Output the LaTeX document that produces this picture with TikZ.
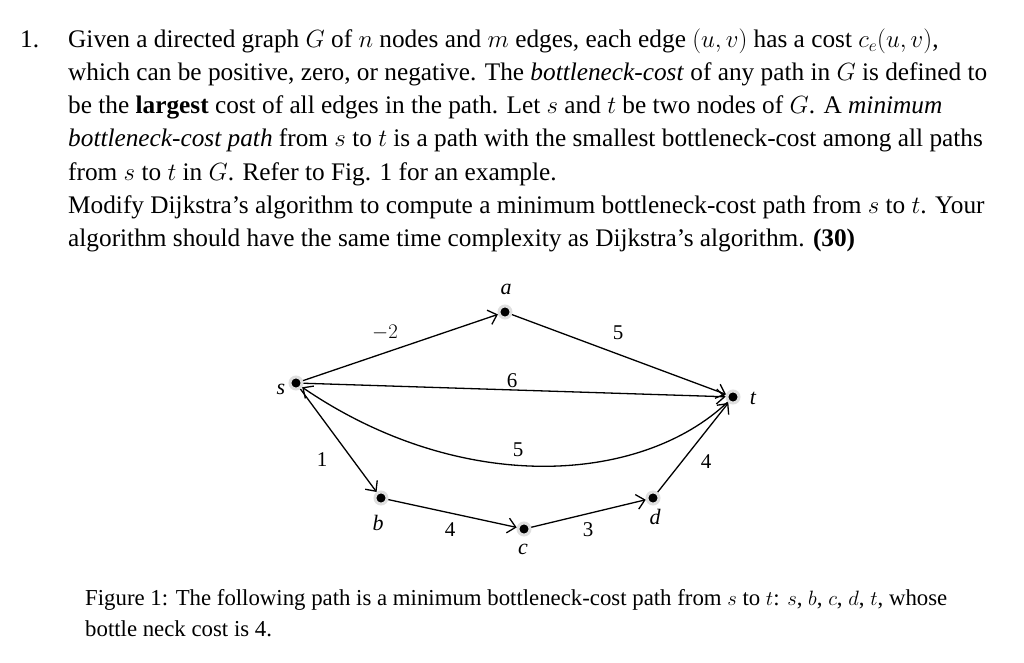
\documentclass[tikz,border=0pt]{standalone}
\usepackage{fontspec}
\setmainfont{Liberation Serif}
\usetikzlibrary{arrows.meta}
\begin{document}
\begin{tikzpicture}[x=1pt,y=-1pt,
  txt/.style={anchor=base west,inner sep=0,font=\fontsize{25.3}{28}\selectfont},
  captxt/.style={anchor=base west,inner sep=0,font=\fontsize{22.8}{26}\selectfont},
  vert/.style={circle,fill=black,inner sep=0,minimum size=12pt,draw=gray!25,line width=3pt},
  vlab/.style={font=\fontsize{22}{24}\selectfont\itshape},
  elab/.style={font=\fontsize{21}{24}\selectfont},
  edge/.style={line width=1.3pt,-{Straight Barb[length=8pt,width=15pt]}}]
\useasboundingbox (0,0) rectangle (1024,663);
\node[txt] (n1) at (20,48) {1.};
\node[txt] (l1) at (68,48) {Given a directed graph $G$ of $n$ nodes and $m$ edges, each edge $(u,v)$ has a cost $c_e(u,v)$,};
\node[txt] (l2) at (68,81) {which can be positive, zero, or negative. The \textit{bottleneck-cost} of any path in $G$ is defined to};
\node[txt] (l3) at (68,114) {be the \textbf{largest} cost of all edges in the path. Let $s$ and $t$ be two nodes of $G$. A \textit{minimum}};
\node[txt] (l4) at (68,147) {\textit{bottleneck-cost path} from $s$ to $t$ is a path with the smallest bottleneck-cost among all paths};
\node[txt] (l5) at (68,180) {from $s$ to $t$ in $G$. Refer to Fig. 1 for an example.};
\node[txt] (l6) at (68,213) {Modify Dijkstra's algorithm to compute a minimum bottleneck-cost path from $s$ to $t$. Your};
\node[txt] (l7) at (68,246) {algorithm should have the same time complexity as Dijkstra's algorithm. \textbf{(30)}};
\node[vert] (s) at (296,383) {};
\node[vert] (a) at (505,312) {};
\node[vert] (t) at (733,397) {};
\node[vert] (b) at (381,498) {};
\node[vert] (c) at (524,529) {};
\node[vert] (d) at (653,498) {};
\node[vlab] (ls) at (281,389) {s};
\node[vlab] (la) at (506,289) {a};
\node[vlab] (lt) at (753,398) {t};
\node[vlab] (lb) at (378,523) {b};
\node[vlab] (lc) at (523,549) {c};
\node[vlab] (ld) at (655,517) {d};
\draw[edge] (s) -- (a);
\draw[edge] (a) -- (t);
\draw[edge] (s) -- (t);
\draw[edge] (s) -- (b);
\draw[edge] (b) -- (c);
\draw[edge] (c) -- (d);
\draw[edge] (d) -- (t);
\draw[edge] (t) .. controls (640,485) and (460,495) .. (s);
\node[elab] (e1) at (385,333) {$-2$};
\node[elab] (e2) at (618,333) {5};
\node[elab] (e3) at (512,381) {6};
\node[elab] (e4) at (518,450) {5};
\node[elab] (e5) at (322,460) {1};
\node[elab] (e6) at (450,530) {4};
\node[elab] (e7) at (588,530) {3};
\node[elab] (e8) at (706,462) {4};
\node[captxt] (c1) at (85,605) {Figure 1: The following path is a minimum bottleneck-cost path from $s$ to $t$: $s$, $b$, $c$, $d$, $t$, whose};
\node[captxt] (c2) at (85,636) {bottle neck cost is 4.};
\end{tikzpicture}
\end{document}
